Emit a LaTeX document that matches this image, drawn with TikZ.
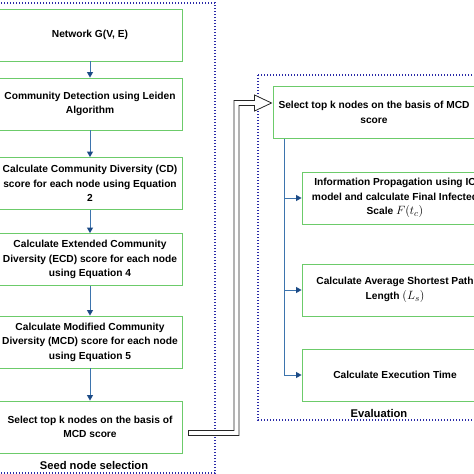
\documentclass[tikz,border=0pt]{standalone}
\usepackage{fontspec}
\setmainfont{Liberation Sans}
\usetikzlibrary{arrows.meta,calc}
\definecolor{boxgreen}{HTML}{6CCB6A}
\definecolor{linkblue}{HTML}{3D74AD}
\definecolor{tipblue}{HTML}{1B4A85}
\definecolor{dotblue}{HTML}{2A2AA8}
\newcommand{\bigmath}[1]{{\fontsize{12.5}{14.5}\selectfont$#1$}}
\begin{document}
\begin{tikzpicture}[x=1pt,y=-1pt,
  stepbox/.style={draw=boxgreen,line width=0.9pt,minimum height=52pt,align=center,
    inner sep=2pt,font=\fontsize{10.2}{14.5}\selectfont\bfseries},
  leftbox/.style={stepbox,minimum width=184pt},
  rightbox/.style={stepbox,minimum width=186pt},
  flow/.style={draw=linkblue,line width=0.9pt,-{Triangle[length=5.5pt,width=6pt,color=tipblue]}},
  groupbox/.style={draw=dotblue,line width=1.3pt,dash pattern=on 1.3pt off 1.7pt},
  grouplabel/.style={font=\fontsize{11.2}{13}\selectfont\bfseries,inner sep=1pt},
  hollow/.style={draw=black!85,fill=white,line width=0.8pt,line join=miter}]
\useasboundingbox (0,0) rectangle (474,474);
% seed node selection
\begin{scope}
\draw[groupbox] (-6,3) rectangle (215,473);
\node[leftbox] (net) at (90,35) {Network G(V, E)};
\node[leftbox] (leiden) at (90,104) {Community Detection using Leiden\\ Algorithm};
\node[leftbox] (cd) at (90,183.5) {Calculate Community Diversity (CD)\\ score for each node using Equation\\ 2};
\node[leftbox] (ecd) at (90,259.5) {Calculate Extended Community\\ Diversity (ECD) score for each node\\ using Equation 4};
\node[leftbox] (mcd) at (90,342) {Calculate Modified Community\\ Diversity (MCD) score for each node\\ using Equation 5};
\node[leftbox] (sel) at (90,427) {Select top k nodes on the basis of\\ MCD score};
\node[grouplabel] (seedlbl) at (94,465) {Seed node selection};
\draw[flow] (net) -- (leiden);
\draw[flow] (leiden) -- (cd);
\draw[flow] (cd) -- (ecd);
\draw[flow] (ecd) -- (mcd);
\draw[flow] (mcd) -- (sel);
\end{scope}
% evaluation
\begin{scope}
\draw[groupbox] (258,75) rectangle (482,420);
\node[stepbox,minimum width=202pt] (top) at (374,112.5) {Select top k nodes on the basis of MCD\\ score};
\node[rightbox] (prop) at (395,198) {Information Propagation using IC\\ model and calculate Final Infected\\ Scale \bigmath{F(t_c)}};
\node[rightbox] (path) at (395,290) {Calculate Average Shortest Path\\ Length \bigmath{(L_s)}};
\node[rightbox] (time) at (395,375) {Calculate Execution Time};
\node[grouplabel] (evallbl) at (379,413) {Evaluation};
\coordinate (trunk) at ($(top.south west)+(12,0)$);
\draw[flow] (trunk) |- (time.west);
\draw[flow] (trunk |- prop.west) -- (prop.west);
\draw[flow] (trunk |- path.west) -- (path.west);
\end{scope}
% hollow link between the two parts
\coordinate (hs) at ($(sel.east)+(6,6)$);
\coordinate (ht) at ($(top.west)+(-1,-9.5)$);
\draw[hollow] ($(hs)+(0,-2.5)$) -- ($(hs)+(45.5,-2.5)$) |- ($(ht)+(-17,-2.5)$)
  -- ($(ht)+(-17,-8)$) -- (ht) -- ($(ht)+(-17,8)$) -- ($(ht)+(-17,2.5)$)
  -| ($(hs)+(50.5,2.5)$) -- ($(hs)+(0,2.5)$) -- cycle;
\end{tikzpicture}
\end{document}
